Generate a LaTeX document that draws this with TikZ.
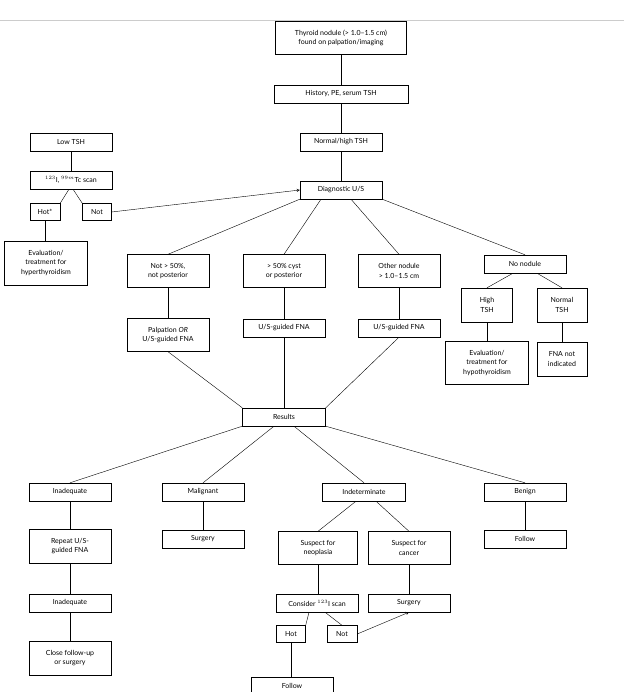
\documentclass[tikz,border=0pt]{standalone}
\usepackage{fontspec}
\setmainfont{Lato}
\begin{document}
\begin{tikzpicture}[x=1pt,y=-1pt,
 b/.style={draw,thin,minimum width=#1,align=center,inner sep=1pt,font=\fontsize{7}{9.5}\selectfont},
 b/.default=82pt, l/.style={thin}, a/.style={thin,-stealth}]
\useasboundingbox (0,0) rectangle (624,692);
\clip (0,0) rectangle (624,692);
\draw[gray!40] (0,20) -- (624,20);
\node[b=131pt,minimum height=33pt] (t) at (341,38) {Thyroid nodule (> 1.0–1.5 cm)\\found on palpation/imaging};
\node[b=134pt,minimum height=18pt] (h) at (341,94) {History, PE, serum TSH};
\node[b,minimum height=18pt] (n) at (341,142) {Normal/high TSH};
\node[b,minimum height=18pt] (d) at (341,190) {Diagnostic U/S};
\node[b,minimum height=18pt] (lt) at (71,142) {Low TSH};
\node[b,minimum height=18pt] (sc) at (71,180) {$^{123}$I, $^{99m}$Tc scan};
\node[b=30pt,minimum height=17pt] (ho) at (45,212) {Hot*};
\node[b=29pt,minimum height=17pt] (no) at (97,212) {Not};
\node[b=83pt,minimum height=44pt] (ehy) at (46,263) {Evaluation/\\treatment for\\hyperthyroidism};
\node[b,minimum height=33pt] (c1) at (168,271) {Not > 50\%,\\not posterior};
\node[b,minimum height=33pt] (c2) at (284,271) {> 50\% cyst\\or posterior};
\node[b,minimum height=33pt] (c3) at (399,271) {Other nodule\\> 1.0–1.5 cm};
\node[b,minimum height=18pt] (c4) at (525,264) {No nodule};
\node[b=51pt,minimum height=34pt] (htsh) at (487,305) {High\\TSH};
\node[b=50pt,minimum height=34pt] (ntsh) at (562,305) {Normal\\TSH};
\node[b=83pt,minimum height=43pt] (ehp) at (487,363) {Evaluation/\\treatment for\\hypothyroidism};
\node[b=50pt,minimum height=34pt] (fni) at (562,359) {FNA not\\indicated};
\node[b,minimum height=33pt] (f1) at (168,335) {Palpation \emph{OR}\\U/S-guided FNA};
\node[b,minimum height=18pt] (f2) at (284,328) {U/S-guided FNA};
\node[b,minimum height=18pt] (f3) at (399,328) {U/S-guided FNA};
\node[b=83pt,minimum height=18pt] (r) at (284,417) {Results};
\node[b,minimum height=18pt] (in) at (70,492) {Inadequate};
\node[b,minimum height=18pt] (ma) at (203,492) {Malignant};
\node[b=83pt,minimum height=18pt] (id) at (364,492) {Indeterminate};
\node[b,minimum height=18pt] (be) at (525,492) {Benign};
\node[b,minimum height=34pt] (rep) at (70,546) {Repeat U/S-\\guided FNA};
\node[b,minimum height=18pt] (su) at (203,539) {Surgery};
\node[b=79pt,minimum height=33pt] (sn) at (318,548) {Suspect for\\neoplasia};
\node[b,minimum height=33pt] (sca) at (409,548) {Suspect for\\cancer};
\node[b,minimum height=18pt] (fo) at (525,539) {Follow};
\node[b,minimum height=18pt] (in2) at (70,603) {Inadequate};
\node[b,minimum height=18pt] (co) at (317,603) {Consider $^{123}$I scan};
\node[b,minimum height=18pt] (su2) at (409,603) {Surgery};
\node[b=29pt,minimum height=17pt] (ho2) at (291,634) {Hot};
\node[b=30pt,minimum height=17pt] (no2) at (342,634) {Not};
\node[b,minimum height=34pt] (cl) at (70,658) {Close follow-up\\or surgery};
\node[b,minimum height=18pt,anchor=north] (fo2) at (292,677) {Follow};
\draw[l] (t)--(h); \draw[l] (h)--(n); \draw[l] (n)--(d);
\draw[l] (lt)--(sc);
\draw[l] ([xshift=-2pt]sc.south)--(ho.north east);
\draw[l] ([xshift=2pt]sc.south)--(no.north west);
\draw[l] (ho)--(ho.south|-ehy.north);
\draw[a] (no.east)--(d.west);
\draw[l] (d.south west)--(c1.north);
\draw[l] ([xshift=-20pt]d.south)--(c2.north);
\draw[l] ([xshift=10pt]d.south)--(c3.north);
\draw[l] (d.south east)--(c4.north);
\draw[l] ([xshift=-12pt]c4.south)--(htsh.north);
\draw[l] ([xshift=12pt]c4.south)--(ntsh.north);
\draw[l] (htsh)--(ehp); \draw[l] (ntsh)--(fni);
\draw[l] (c1)--(f1); \draw[l] (c2)--(f2); \draw[l] (c3)--(f3);
\draw[l] (f1.south)--(r.north west);
\draw[l] (f2)--(r);
\draw[l] (f3.south)--(r.north east);
\draw[l] (r.south west)--(in.north);
\draw[l] ([xshift=-10pt]r.south)--(ma.north);
\draw[l] ([xshift=10pt]r.south)--(id.north);
\draw[l] (r.south east)--(be.north);
\draw[l] (in)--(rep); \draw[l] (ma)--(su); \draw[l] (be)--(fo);
\draw[l] ([xshift=-8pt]id.south)--(sn.north);
\draw[l] ([xshift=12pt]id.south)--(sca.north);
\draw[l] (rep)--(in2); \draw[l] (in2)--(cl);
\draw[l] (sn)--(sn|-co.north); \draw[l] (sca)--(su2);
\draw[l] ([xshift=-8pt]co.south)--(ho2.north east);
\draw[l] ([xshift=8pt]co.south)--(no2.north);
\draw[l] (ho2)--(ho2|-fo2.north);
\draw[a] (no2.east)--(su2.south);
\end{tikzpicture}
\end{document}
